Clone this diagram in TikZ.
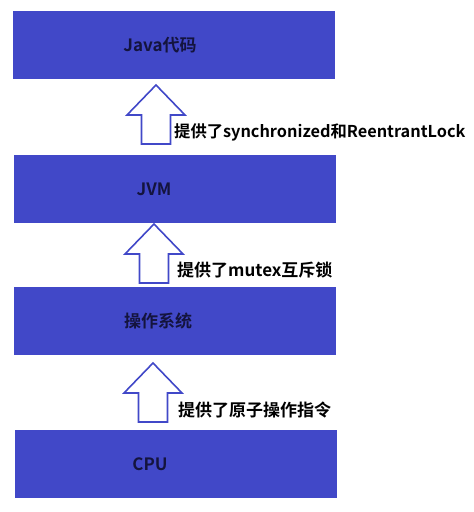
\documentclass[tikz,border=0pt]{standalone}
\usepackage{fontspec}
\setmainfont{Noto Sans CJK SC}[BoldFont={Noto Sans CJK SC Bold}]
\definecolor{layerblue}{RGB}{65,72,200}
\definecolor{layertext}{RGB}{20,20,62}

\tikzset{
	layer/.style = {fill=layerblue, minimum width=322pt, minimum height=68pt, inner sep=0pt},
	layername/.style = {text=layertext, font=\fontsize{17}{20}\selectfont\bfseries},
	note/.style = {anchor=west, inner sep=0pt, font=\fontsize{17}{20}\selectfont\bfseries},
	hollow arrow/.pic = {
		\draw[layerblue, line width=1.6pt, fill=white, line join=miter]
			(-14.5,0) -- (-14.5,29) -- (-29,29) -- (0,59) -- (29,29) -- (14.5,29) -- (14.5,0) -- cycle;
	},
}

\begin{document}
\begin{tikzpicture}[x=1pt, y=1pt]
	\useasboundingbox (0,0) rectangle (474,512);
	
	\node [layer, label={[layername, xshift=-14pt]center:Java代码}] (java) at (174,467) {};
	\node [layer, label={[layername, xshift=-21pt]center:JVM}] (jvm) at (175,323) {};
	\node [layer, label={[layername, xshift=-17pt]center:操作系统}] (os) at (175,191) {};
	\node [layer, label={[layername, xshift=-26pt]center:CPU}] (cpu) at (176,48) {};
	
	\pic at (156,368) {hollow arrow};
	\pic at (154,229) {hollow arrow};
	\pic at (153,90) {hollow arrow};
	
	\node [note, font=\fontsize{16.3}{19}\selectfont\bfseries] (jvmnote) at (174,380) {提供了synchronized和ReentrantLock};
	\node [note] (osnote) at (177,242) {提供了mutex互斥锁};
	\node [note] (cpunote) at (178,102) {提供了原子操作指令};
\end{tikzpicture}
\end{document}
